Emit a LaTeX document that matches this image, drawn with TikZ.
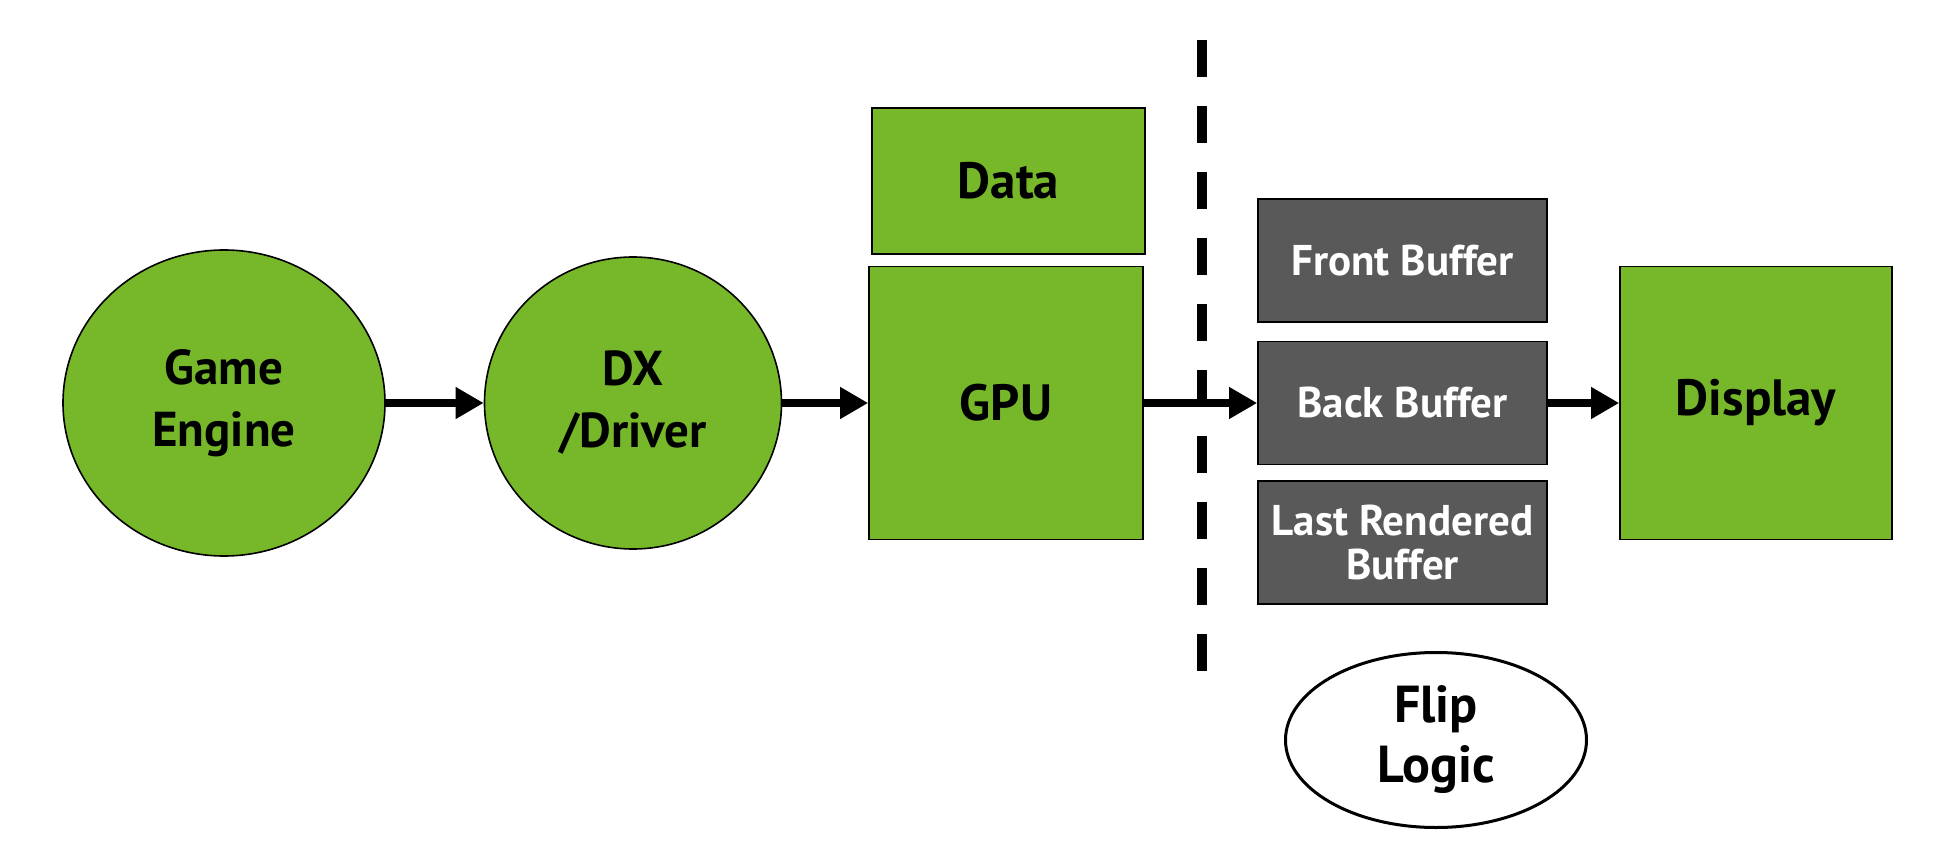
\documentclass[tikz,border=0pt]{standalone}
\usepackage{fontspec}
\setmainfont{PT Sans}
\usetikzlibrary{shapes.geometric,arrows.meta}
\definecolor{nvgreen}{HTML}{77B82A}
\definecolor{bufgray}{HTML}{595959}
\tikzset{
  greenell/.style={ellipse, draw=black, line width=0.8pt, fill=nvgreen, inner sep=0pt, align=center, font=\bfseries\fontsize{24.5}{31}\selectfont},
  greenbox/.style={rectangle, draw=black, line width=0.8pt, fill=nvgreen, inner sep=0pt, align=center, font=\bfseries\fontsize{25.5}{30}\selectfont},
  bufbox/.style={rectangle, draw=black, line width=0.8pt, fill=bufgray, inner sep=0pt, align=center, text=white, minimum width=144.5pt, minimum height=61.5pt, font=\bfseries\fontsize{21.5}{22}\selectfont},
  flowarrow/.style={line width=4pt, -{Triangle[length=14pt,width=15pt]}},
}
\begin{document}
\begin{tikzpicture}[x=0.5pt,y=-0.5pt]
\useasboundingbox (0,0) rectangle (1938,850);
\node[greenell, minimum width=161pt, minimum height=153pt] (ge) at (224,403) {Game\\Engine};
\node[greenell, minimum width=148.5pt, minimum height=146pt] (dx) at (633,403) {DX\\/Driver};
\node[greenbox, minimum width=136.5pt, minimum height=73pt] (data) at (1008.5,181) {Data};
\node[greenbox, minimum width=137pt, minimum height=136.5pt] (gpu) at (1006,403) {GPU};
\node[bufbox] (front) at (1402.5,260.5) {Front Buffer};
\node[bufbox] (back) at (1402.5,403) {Back Buffer};
\node[bufbox] (last) at (1402.5,542.5) {Last Rendered\\Buffer};
\node[greenbox, minimum width=136pt, minimum height=136.5pt] (disp) at (1756,403) {Display};
\node[ellipse, draw=black, line width=1.5pt, fill=white, inner sep=0pt, minimum width=150.5pt, minimum height=87.5pt, align=center, font=\bfseries\fontsize{26}{30}\selectfont] (flip) at (1436,740) {Flip\\Logic};
\coordinate (dtop) at (1202,40);
\coordinate (dbot) at (1202,673);
\draw[flowarrow] (ge.east) -- (dx.west);
\draw[flowarrow] (dx.east) -- (gpu.west);
\draw[flowarrow] (gpu.east) -- (back.west);
\draw[flowarrow] (back.east) -- (disp.west);
\draw[line width=5pt, dash pattern=on 18.5pt off 14.5pt] (dtop) -- (dbot);
\end{tikzpicture}
\end{document}
